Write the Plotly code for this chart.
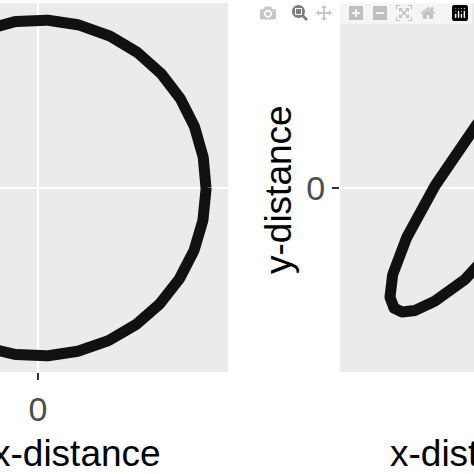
import numpy as np
import plotly.graph_objects as go

# circle (left panel) and tilted ellipse (right panel), in distance units
t = np.linspace(0, 2*np.pi, 600)
circle_x = np.cos(t)
circle_y = np.sin(t)

S = 168.0  # px per unit
a, b, th = 215/S, 50/S, np.deg2rad(52)
cx, cy = (528-600)/S, (188-140)/S
ell_x = cx + a*np.cos(t)*np.cos(th) - b*np.sin(t)*np.sin(th)
ell_y = cy + a*np.cos(t)*np.sin(th) + b*np.sin(t)*np.cos(th)

tick_vals = [0]
tick_text = ["0"]

fig = go.Figure()
line = dict(color="#111111", width=11)
fig.add_trace(go.Scatter(x=circle_x, y=circle_y, mode="lines", line=line, xaxis="x", yaxis="y", showlegend=False))
fig.add_trace(go.Scatter(x=ell_x, y=ell_y, mode="lines", line=line, xaxis="x2", yaxis="y2", showlegend=False))

ax = dict(showgrid=True, gridcolor="white", gridwidth=1.5, zeroline=False, showline=False,
          ticks="outside", ticklen=7, tickcolor="#333333", tickwidth=1.5,
          tickvals=tick_vals, ticktext=tick_text,
          tickfont=dict(size=34, color="#4d4d4d", family="Liberation Sans"))
yr = [-(372-188)/S, (188-3)/S]
fig.update_layout(
    width=474, height=474, margin=dict(l=0, r=0, t=3, b=102),
    plot_bgcolor="#ebebeb", paper_bgcolor="white",
    xaxis=dict(ax, domain=[0, 228/474], range=[-38/S, 190/S]),
    yaxis=dict(ax, range=yr, showticklabels=False, ticks=""),
    xaxis2=dict(ax, domain=[340/474, 1], range=[(340-600)/S, (474-600)/S], anchor="y2", showticklabels=False, ticks=""),
    yaxis2=dict(ax, range=yr, anchor="x2"),
    annotations=[
        dict(text="x-distance", xref="paper", yref="paper", x=163/474, y=-(453-372)/369, xanchor="right", yanchor="middle",
             showarrow=False, font=dict(size=37, color="black", family="Liberation Sans")),
        dict(text="x-distance", xref="paper", yref="paper", x=388/474, y=-(453-372)/369, xanchor="left", yanchor="middle",
             showarrow=False, font=dict(size=37, color="black", family="Liberation Sans")),
        dict(text="y-distance", xref="paper", yref="paper", x=278/474, y=(372-190)/369, xanchor="center", yanchor="middle",
             textangle=-90, showarrow=False, font=dict(size=37, color="black", family="Liberation Sans")),
    ],
)
fig.write_html("out.html", post_script="document.body.style.margin='0';document.body.style.padding='0';")
